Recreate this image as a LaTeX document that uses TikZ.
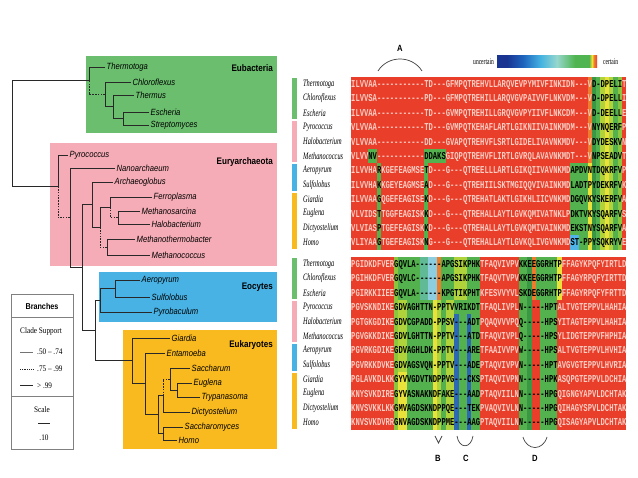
\documentclass[tikz,border=0pt]{standalone}
\usepackage{fontspec}
\setmainfont{Liberation Serif}[FakeStretch=0.85]
\setsansfont{Liberation Sans}[FakeStretch=0.85]
\newfontfamily\alfont{Liberation Serif}[FakeStretch=0.65]
\newfontfamily\seqfont{Liberation Mono}[FakeStretch=0.68,Ligatures=TeXOff]

\definecolor{treeln}{RGB}{40,40,40}
\definecolor{eubac}{RGB}{106,190,110}
\definecolor{eury}{RGB}{245,172,182}
\definecolor{eocy}{RGB}{72,178,228}
\definecolor{euka}{RGB}{248,186,30}
\definecolor{alred}{RGB}{232,62,42}
\definecolor{algrn}{RGB}{84,178,78}
\definecolor{aldgrn}{RGB}{58,152,68}
\definecolor{alyg}{RGB}{140,198,62}
\definecolor{allime}{RGB}{176,210,58}
\definecolor{alyel}{RGB}{234,226,58}
\definecolor{alorg}{RGB}{238,124,46}
\definecolor{alteal}{RGB}{96,186,150}
\definecolor{alsky}{RGB}{140,206,224}
\definecolor{alblue}{RGB}{44,104,180}
\definecolor{allblue}{RGB}{80,180,232}
\definecolor{seqlt}{RGB}{250,205,195}
\definecolor{gdk}{RGB}{25,52,145}
\definecolor{gmid}{RGB}{30,100,190}
\definecolor{gcy}{RGB}{70,180,225}
\definecolor{gpale}{RGB}{150,215,205}
\definecolor{ggr}{RGB}{80,180,80}
\definecolor{gyl}{RGB}{240,225,50}

\pgfdeclarehorizontalshading{certainty}{100bp}{color(0bp)=(gdk); color(25bp)=(gdk); color(30bp)=(gdk); color(38bp)=(gmid); color(47bp)=(gcy); color(55bp)=(gpale); color(64bp)=(ggr); color(71bp)=(ggr); color(72.5bp)=(gyl); color(73.5bp)=(alorg); color(75bp)=(alred); color(100bp)=(alred)}

\newcommand\sqlt[1]{\textcolor{seqlt}{#1}}
\newcommand\sqdk[1]{\textcolor{black}{#1}}

\begin{document}
\begin{tikzpicture}[x=1pt,y=-1pt,
        sp/.style={font=\sffamily\itshape\fontsize{9}{10}\selectfont,anchor=west,inner sep=1.5pt},
        grp/.style={font=\sffamily\bfseries\fontsize{9.5}{10}\selectfont,anchor=east,inner sep=0pt},
        br/.style={draw=treeln,line width=0.8pt},
        brdash/.style={br,dash pattern=on 1.6pt off 1.2pt},
        lgd/.style={font=\fontsize{8.5}{9}\selectfont,inner sep=0pt},
        al/.style={font=\alfont\itshape\fontsize{9.8}{10}\selectfont,anchor=west,inner sep=0pt},
        seq/.style={font=\seqfont\bfseries\fontsize{10.54}{11}\selectfont,anchor=base west,inner sep=0pt},
        lbl/.style={font=\sffamily\bfseries\fontsize{9}{10}\selectfont,inner sep=0pt},
        sitearc/.style={draw=black!75,line width=0.7pt}]
        \def\xo{351}
        \def\cw{4.3}
        \def\rh{14.4}
        \def\ya{84}
        \def\yb{264}

        \useasboundingbox (0,0) rectangle (638,478);
        \fill[white] (0,0) rectangle (638,478);

        \fill[eubac] (86,56) rectangle (277,133);
        \fill[eury] (50,143) rectangle (277,266);
        \fill[eocy] (99,272) rectangle (277,322);
        \fill[euka] (123,330) rectangle (277,449);

        \node[grp] (eubt) at (273,68) {Eubacteria};
        \node[grp] (euryt) at (273,162) {Euryarchaeota};
        \node[grp] (eocyt) at (273,287) {Eocytes};
        \node[grp] (eukt) at (273,345) {Eukaryotes};

        \foreach \nm/\tx/\xx/\yy in {thermotoga/Thermotoga/105/67, chloroflexus/Chloroflexus/131/82,
            thermus/Thermus/134/95, escheria/Escheria/149/112, streptomyces/Streptomyces/149/125,
            pyrococcus/Pyrococcus/68/155, nanoarchaeum/Nanoarchaeum/115/168, archaeoglobus/Archaeoglobus/113/182,
            ferroplasma/Ferroplasma/152/197, methanosarcina/Methanosarcina/140/211, halobacterium/Halobacterium/150/224,
            methanothermobacter/Methanothermobacter/135/239, methanococcus/Methanococcus/150/255,
            aeropyrum/Aeropyrum/140/280, sulfolobus/Sulfolobus/150/297, pyrobaculum/Pyrobaculum/152/312,
            giardia/Giardia/170/338, entamoeba/Entamoeba/165/353, saccharum/Saccharum/190/368,
            euglena/Euglena/192/383, trypanasoma/Trypanasoma/200/397, dictyostelium/Dictyostelium/190/412,
            saccharomyces/Saccharomyces/183/427, homo/Homo/177/440}
          \node[sp] (\nm) at (\xx,\yy) {\tx};

        \coordinate (eubD) at (123,118.5);
        \coordinate (eubC) at (113,106.8);
        \coordinate (eubB) at (105,94.4);
        \coordinate (eubA) at (89,80.7);
        \coordinate (eurG) at (118,217.5);
        \coordinate (eurF) at (110,207.3);
        \coordinate (eurH) at (107,247);
        \coordinate (eurE) at (100,227.1);
        \coordinate (eurD) at (92,204.6);
        \coordinate (eocB) at (115,288.5);
        \coordinate (eocA) at (100,300.3);
        \coordinate (eukG) at (177,390);
        \coordinate (eukF) at (170,379);
        \coordinate (eukE) at (163,395.5);
        \coordinate (eukH) at (163,433.5);
        \coordinate (eukD) at (158,414.5);
        \coordinate (eukC) at (145,383.8);
        \coordinate (eukB) at (132,360.9);
        \coordinate (arcC) at (95,330.6);
        \coordinate (arcB) at (82,267.6);
        \coordinate (arcA) at (70,217.8);
        \coordinate (eurA) at (58,186.4);
        \coordinate (root) at (12,133.6);

        \foreach \ch/\pa in {escheria.west/eubD, streptomyces.west/eubD, thermus.west/eubC, eubD/eubC,
            chloroflexus.west/eubB, eubC/eubB, thermotoga.west/eubA,
            methanosarcina.west/eurG, halobacterium.west/eurG, ferroplasma.west/eurF,
            methanothermobacter.west/eurH, methanococcus.west/eurH, eurF/eurE,
            archaeoglobus.west/eurD, eurE/eurD, eurD/arcB, nanoarchaeum.west/arcA, arcB/arcA,
            pyrococcus.west/eurA, aeropyrum.west/eocB, sulfolobus.west/eocB, eocB/eocA,
            pyrobaculum.west/eocA, eocA/arcC, euglena.west/eukG, trypanasoma.west/eukG,
            saccharum.west/eukF, eukG/eukF, dictyostelium.west/eukE, saccharomyces.west/eukH,
            homo.west/eukH, eukE/eukD, eukH/eukD, entamoeba.west/eukC, eukD/eukC,
            giardia.west/eukB, eukC/eukB, eukB/arcC, arcC/arcB, eubA/root, eurA/root}
          \draw[br] (\ch) -| (\pa);
        \foreach \ch/\pa in {eubB/eubA, eurG/eurF, eurH/eurE, arcA/eurA, eukF/eukE}
          \draw[brdash] (\ch) -| (\pa);

        \draw[black!50,line width=0.7pt,fill=white] (11,294) rectangle (73,449);
        \draw[black!50,line width=0.7pt] (11,317) -- (73,317) (11,396) -- (73,396);
        \node[lbl,font=\sffamily\bfseries\fontsize{8.5}{9}\selectfont] (branches) at (42,306) {Branches};
        \node[lgd] (clade) at (41,331) {Clade Support};
        \node[lgd,anchor=west] (sup1) at (37,352) {.50 – .74};
        \node[lgd,anchor=west] (sup2) at (37,369) {.75 – .99};
        \node[lgd,anchor=west] (sup3) at (37,386) {> .99};
        \draw[black!55,line width=0.4pt] (20,352) -- (33,352);
        \draw[treeln,line width=0.7pt,dash pattern=on 1pt off 0.8pt] (20,369) -- (33,369);
        \draw[treeln,line width=1pt] (20,386) -- (33,386);
        \node[lgd] (scale) at (42,410) {Scale};
        \draw[treeln,line width=1pt] (38,424) -- (50,424);
        \node[lgd] (ten) at (44,438) {.10};

        \fill[alred] (\xo,{\ya-\rh/2}) rectangle ++({64*\cw},{12*\rh});
        \fill[alred] (\xo,{\yb-\rh/2}) rectangle ++({64*\cw},{12*\rh});
        \foreach \kk/\nn/\ra/\rb/\fc in {55/1/0/5/alorg, 55/1/6/11/alyel, 56/1/0/11/aldgrn, 57/1/0/11/algrn,
            58/1/0/11/allime, 59/1/0/11/alyel, 60/1/0/11/allime, 61/1/0/11/algrn, 62/1/0/11/alyg,
            4/2/5/5/algrn, 17/5/5/5/algrn, 6/1/6/11/algrn, 17/1/6/11/algrn,
            51/4/6/10/algrn, 51/2/11/11/allblue, 53/2/11/11/algrn}
          \fill[\fc] ({\xo+\kk*\cw},{\ya+(\ra-0.5)*\rh}) rectangle ++({\nn*\cw},{(\rb-\ra+1)*\rh});
        \foreach \kk/\nn/\ra/\rb/\fc in {10/1/0/11/alyg, 11/5/0/2/algrn, 16/2/0/2/alteal, 18/2/0/2/alsky,
            20/1/0/2/alorg, 11/2/3/11/allime, 13/6/3/11/algrn, 11/2/8/11/alyel, 19/1/3/11/alyel,
            20/1/3/11/allime, 21/3/0/2/algrn, 24/3/0/2/allime, 27/3/0/2/algrn,
            21/9/3/11/algrn, 22/2/3/11/allime, 24/1/4/11/alblue, 27/1/4/11/alblue,
            39/2/0/11/algrn, 41/1/0/11/aldgrn, 42/1/0/2/alorg, 43/5/0/2/algrn, 48/1/0/2/alyel,
            44/4/3/11/algrn}
          \fill[\fc] ({\xo+\kk*\cw},{\yb+(\ra-0.5)*\rh}) rectangle ++({\nn*\cw},{(\rb-\ra+1)*\rh});

        \foreach \txt [count=\i from 0] in {
            {\sqlt{ILVVAA-----------TD---GFMPQTREHVLLARQVEVPYMIVFINKIDN---V}\sqdk{D-DPELI}\sqlt{T}},
            {\sqlt{ILVVSA-----------PD---GFMPQTREHILLARQVGVPAIVVFLNKVDM---V}\sqdk{D-DPELL}\sqlt{I}},
            {\sqlt{ILVVAA-----------TD---GVMPQTREHILLGRQVGVPYIIVFLNKCDM---V}\sqdk{D-DEELL}\sqlt{E}},
            {\sqlt{VLVVAA-----------TD---GVMPQTKEHAFLARTLGIKNIIVAINKMDM---V}\sqdk{NYNQERF}\sqlt{P}},
            {\sqlt{VLVVAA-----------DD---GVAPQTREHVFLSRTLGIDELIVAVNKMDV---V}\sqdk{DYDESKV}\sqlt{N}},
            {\sqlt{VLVV}\sqdk{NV}\sqlt{-----------}\sqdk{DDAKS}\sqlt{GIQPQTREHVFLIRTLGVRQLAVAVNKMDT---V}\sqdk{NPSEADV}\sqlt{T}},
            {\sqlt{ILVVHA}\sqdk{R}\sqlt{KGEFEAGMSE}\sqdk{T}\sqlt{D---G---QTREELLLARTLGIKQIIVAVNKMD}\sqdk{APDVNTDQKRFV}\sqlt{P}},
            {\sqlt{ILVVHA}\sqdk{K}\sqlt{KGEYEAGMSE}\sqdk{A}\sqlt{D---G---QTREHIILSKTMGIQQVIVAINKMD}\sqdk{LADTPYDEKRFV}\sqlt{K}},
            {\sqlt{ILVVAA}\sqdk{G}\sqlt{QGEFEAGISE}\sqdk{K}\sqlt{D---G---QTREHATLAKTLGIKHLIICVNKMD}\sqdk{DGQVKYSKERFV}\sqlt{A}},
            {\sqlt{VLVIDS}\sqdk{T}\sqlt{TGGFEAGISK}\sqdk{K}\sqlt{D---G---QTREHALLAYTLGVKQMIVATNKLP}\sqdk{DKTVKYSQARFV}\sqlt{S}},
            {\sqlt{VLVIAS}\sqdk{P}\sqlt{TGEFEAGISK}\sqdk{K}\sqlt{D---G---QTREHALLAYTLGVKQMIVAINKMD}\sqdk{EKSTNYSQARFV}\sqlt{A}},
            {\sqlt{VLIYAA}\sqdk{G}\sqlt{TGEFEAGISK}\sqdk{N}\sqlt{G---G---QTREHALLAYTLGVKQLIVGVNKMD}\sqdk{ST-PPYSQKRYV}\sqlt{E}}}
          \node[seq] (up\i) at (\xo,{\ya+\i*\rh+3.5}) {\txt};
        \foreach \txt [count=\i from 0] in {
            {\sqlt{PGIDKDFVER}\sqdk{GQVLA------APGSIKPHK}\sqlt{TFAQVIVPV}\sqdk{KKEEGGRHTP}\sqlt{FFAGYKPQFYIRTLD}},
            {\sqlt{PGIHKDFVER}\sqdk{GQVLC------APGSIKPHK}\sqlt{TFAQVTVPV}\sqdk{KKEEGGRHTP}\sqlt{FFAGYRPQFYIRTTD}},
            {\sqlt{PGIRKKIIEE}\sqdk{GQVLA------KPGTIKPHT}\sqlt{KFESVVYVL}\sqdk{SKDEGGRHTP}\sqlt{FFAGYRPQFYFRTTD}},
            {\sqlt{PGVSKNDIKE}\sqdk{GDVAGHTTN-PPTVVRIKDT}\sqlt{TFAQLIVPL}\sqdk{N-----HPT}\sqlt{ALTVGTEPPVLHAHIA}},
            {\sqlt{PGTGKGDIKE}\sqdk{GDVCGPADD-PPSV---ADT}\sqlt{PQAQVVVPQ}\sqdk{Q-----HPS}\sqlt{YITAGTEPPVLHAHIA}},
            {\sqlt{PGVGKKDIKE}\sqdk{GDVLGHTTN-PPTV---ATD}\sqlt{TFAQVIVPL}\sqdk{Q-----HPS}\sqlt{YLIDGTEPPVFHPHIA}},
            {\sqlt{PGVRKGDIKE}\sqdk{GDVAGHLDK-PPTV---ARE}\sqlt{TFAAIVVPV}\sqdk{W-----HPS}\sqlt{ALTVGTEPPVLHVHIA}},
            {\sqlt{PGVRKKDVKE}\sqdk{GDVAGSVQN-PPTV---ADE}\sqlt{PTAQVIVPV}\sqdk{N-----HPT}\sqlt{AVGVGTEPPVLHVRIA}},
            {\sqlt{PGLAVKDLKK}\sqdk{GYVVGDVTNDPPVG---CKS}\sqlt{PTAQVIVPN}\sqdk{N-----HPK}\sqlt{ASQPGTEPPVLDCHIA}},
            {\sqlt{KNYSVKDIRE}\sqdk{GYVASNAKNDFAKE---AAD}\sqlt{PTAQVIILN}\sqdk{N-----HPG}\sqlt{QIGNGYAPVLDCHTAK}},
            {\sqlt{KNVSVKKLKK}\sqdk{GMVAGDSKNDPPQE---TEK}\sqlt{PVAQVIVLN}\sqdk{N-----HPG}\sqlt{QIHAGYSPVLDCHTAK}},
            {\sqlt{KNVSVKDVRR}\sqdk{GNVAGDSKNDPPME---AAG}\sqlt{PTAQVIILN}\sqdk{N-----HPG}\sqlt{QISAGYAPVLDCHTAK}}}
          \node[seq] (lo\i) at (\xo,{\yb+\i*\rh+3.5}) {\txt};

        \foreach \ra/\rb/\fc in {0/2/eubac, 3/5/eury, 6/7/eocy, 8/11/euka} {
          \fill[\fc] (292,{\ya+(\ra-0.5)*\rh+1}) rectangle (297,{\ya+(\rb+0.5)*\rh-1});
          \fill[\fc] (292,{\yb+(\ra-0.5)*\rh+1}) rectangle (297,{\yb+(\rb+0.5)*\rh-1});
        }
        \foreach \nm [count=\i from 0] in {Thermotoga,Chloroflexus,Escheria,Pyrococcus,Halobacterium,Methanococcus,
            Aeropyrum,Sulfolobus,Giardia,Euglena,Dictyostelium,Homo} {
          \node[al] (ua\i) at (303,{\ya+\i*\rh}) {\nm};
          \node[al] (la\i) at (303,{\yb+\i*\rh}) {\nm};
        }

        \node[lbl] (labA) at (400,48) {A};
        \draw[sitearc] (378,71) .. controls (388,55) and (412,55) .. (422,71);
        \node[font=\alfont\fontsize{8.5}{9}\selectfont,anchor=east,inner sep=0pt] (unc) at (494,62) {uncertain};
        \fill[shading=certainty] (497,56) rectangle (597,68);
        \node[font=\alfont\fontsize{8.5}{9}\selectfont,anchor=west,inner sep=0pt] (cer) at (603,62) {certain};

        \draw[sitearc] (435,436) -- (438.5,443) -- (442,436);
        \node[lbl] (labB) at (438,458) {B};
        \draw[sitearc] (457,436) .. controls (459,449) and (471,449) .. (473,436);
        \node[lbl] (labC) at (466,458) {C};
        \draw[sitearc] (523,437) .. controls (527,451) and (543,451) .. (547,437);
        \node[lbl] (labD) at (535,458) {D};
      \end{tikzpicture}
\end{document}
